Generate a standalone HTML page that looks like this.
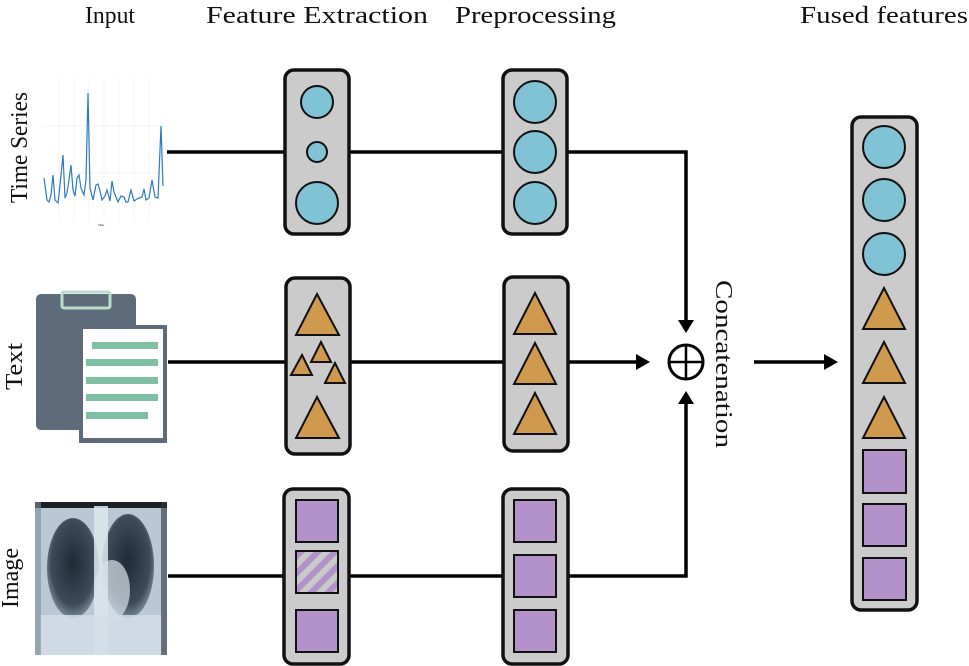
<!DOCTYPE html>
<html><head><meta charset="utf-8"><style>
html,body{margin:0;padding:0;background:#fff;}
svg{display:block;}
text{font-family:"Liberation Serif",serif;fill:#111;}
</style></head><body>
<svg width="969" height="666" viewBox="0 0 969 666" xmlns="http://www.w3.org/2000/svg">
<defs>
<pattern id="hatch" patternUnits="userSpaceOnUse" width="12" height="12" patternTransform="rotate(45)">
<rect width="12" height="12" fill="#c9c9c9"/><rect width="6" height="12" fill="#b391c9"/>
</pattern>
<radialGradient id="lungL" cx="0.5" cy="0.45" r="0.6"><stop offset="0" stop-color="#1f2a36"/><stop offset="0.7" stop-color="#3d4b59"/><stop offset="1" stop-color="#8fa0ae"/></radialGradient>
</defs>

<!-- titles -->
<text x="85" y="23" font-size="24" textLength="50" lengthAdjust="spacingAndGlyphs">Input</text>
<text x="206" y="23" font-size="24" textLength="222" lengthAdjust="spacingAndGlyphs">Feature Extraction</text>
<text x="455" y="23" font-size="24" textLength="161" lengthAdjust="spacingAndGlyphs">Preprocessing</text>
<text x="800" y="23" font-size="24" textLength="168" lengthAdjust="spacingAndGlyphs">Fused features</text>

<!-- side labels -->
<text transform="translate(27,203) rotate(-90)" font-size="24" textLength="111" lengthAdjust="spacingAndGlyphs">Time Series</text>
<text transform="translate(22,390) rotate(-90)" font-size="24" textLength="47" lengthAdjust="spacingAndGlyphs">Text</text>
<text transform="translate(18,608) rotate(-90)" font-size="24" textLength="60" lengthAdjust="spacingAndGlyphs">Image</text>
<text transform="translate(716,280) rotate(90)" font-size="24" textLength="168" lengthAdjust="spacingAndGlyphs">Concatenation</text>

<!-- time series chart -->
<g>
<rect x="43" y="78" width="121" height="146" fill="#fff"/>
<g stroke="#eee" stroke-width="0.6">
<line x1="59" y1="78" x2="59" y2="222"/><line x1="74" y1="78" x2="74" y2="222"/><line x1="89" y1="78" x2="89" y2="222"/>
<line x1="104" y1="78" x2="104" y2="222"/><line x1="119" y1="78" x2="119" y2="222"/><line x1="134" y1="78" x2="134" y2="222"/><line x1="149" y1="78" x2="149" y2="222"/>
<line x1="43" y1="126" x2="164" y2="126"/><line x1="43" y1="173" x2="164" y2="173"/>
</g>
<polyline fill="none" stroke="#2b7bc0" stroke-width="1.2" points="44,178 47,200 49,202 51,195 53,175 55,200 58,203 60,185 63,155 65,198 67,193 69,180 71,165 73,190 75,196 77,178 79,175 81,188 84,195 86,180 88,93 90,188 93,200 96,185 98,184 100,191 102,200 105,196 107,190 110,201 112,181 114,192 116,197 118,202 121,196 124,197 126,202 128,202 131,190 134,201 137,199 139,198 142,197 144,189 146,200 149,198 152,180 155,197 158,198 161,126 163,186"/>
<text x="98" y="226" font-size="3" fill="#777">Time</text>
</g>

<!-- clipboard -->
<rect x="36" y="294" width="100" height="136" rx="5" fill="#5d6b7b"/>
<rect x="62" y="292" width="48" height="16" rx="2" fill="none" stroke="#b9dccb" stroke-width="3"/>
<rect x="79" y="325" width="88" height="118" fill="#5d6b7b"/>
<rect x="83" y="329" width="80" height="109" fill="#fff"/>
<g fill="#7fbfa3">
<rect x="92" y="342" width="66" height="7"/><rect x="86" y="359" width="72" height="7"/>
<rect x="86" y="377" width="72" height="7"/><rect x="86" y="394" width="72" height="7"/><rect x="86" y="412" width="62" height="7"/>
</g>

<!-- xray -->
<g>
<rect x="35" y="502" width="132" height="153" fill="#b9c8d4"/>
<rect x="35" y="502" width="132" height="6" fill="#1a1f25"/>
<ellipse cx="73" cy="568" rx="26" ry="50" fill="url(#lungL)"/>
<ellipse cx="128" cy="566" rx="26" ry="52" fill="url(#lungL)"/>
<rect x="94" y="506" width="14" height="149" fill="#dde6ec" opacity="0.85"/>
<ellipse cx="112" cy="590" rx="18" ry="30" fill="#d9e2ea" opacity="0.7"/>
<rect x="40" y="615" width="122" height="40" fill="#d2dde6" opacity="0.85"/>
<rect x="35" y="502" width="6" height="153" fill="#7d8d9b" opacity="0.6"/>
<rect x="161" y="502" width="6" height="153" fill="#2b3440" opacity="0.6"/>
</g>

<!-- connectors -->
<g stroke="#000" stroke-width="3.5" fill="none">
<polyline points="167,152 686,152 686,322"/>
<line x1="168" y1="362" x2="638" y2="362"/>
<polyline points="168,576 686,576 686,402"/>
<line x1="754" y1="362" x2="826" y2="362"/>
</g>
<g fill="#000">
<path d="M678,320 L694,320 L686,333 z"/>
<path d="M636,354 L636,370 L650,362 z"/>
<path d="M678,404 L694,404 L686,391 z"/>
<path d="M824,354 L824,370 L838,362 z"/>
</g>
<circle cx="686" cy="362" r="17" fill="#fff" stroke="#000" stroke-width="3"/>
<line x1="669" y1="362" x2="703" y2="362" stroke="#000" stroke-width="2.5"/>
<line x1="686" y1="345" x2="686" y2="379" stroke="#000" stroke-width="2.5"/>

<!-- boxes -->
<g fill="#cbcbcb" stroke="#111" stroke-width="3.5">
<rect x="285" y="70" width="64" height="164" rx="9"/>
<rect x="503" y="70" width="64" height="164" rx="9"/>
<rect x="286" y="278" width="64" height="176" rx="9"/>
<rect x="504" y="277" width="64" height="174" rx="9"/>
<rect x="284" y="489" width="65" height="175" rx="9"/>
<rect x="503" y="489" width="65" height="175" rx="9"/>
<rect x="852" y="117" width="65" height="493" rx="9"/>
</g>

<!-- circles -->
<g fill="#7fc3d5" stroke="#111" stroke-width="2">
<circle cx="317" cy="102" r="16"/><circle cx="317" cy="152" r="10"/><circle cx="317" cy="203" r="21"/>
<circle cx="535" cy="102" r="21"/><circle cx="535" cy="152" r="21"/><circle cx="535" cy="203" r="21"/>
<circle cx="884" cy="147" r="21"/><circle cx="884" cy="200" r="21"/><circle cx="884" cy="254" r="21"/>
</g>

<!-- triangles -->
<g fill="#cf994e" stroke="#111" stroke-width="2">
<path d="M317,294 L339,335 L296,335 z"/>
<path d="M321,342 L331,362 L311,362 z"/>
<path d="M302,355 L312,375 L291,375 z"/>
<path d="M335,363 L345,383 L325,383 z"/>
<path d="M317,397 L339,438 L296,438 z"/>
<path d="M535,293 L556,334 L514,334 z"/>
<path d="M535,343 L556,384 L514,384 z"/>
<path d="M535,393 L556,434 L514,434 z"/>
<path d="M884,288 L905,329 L863,329 z"/>
<path d="M884,342 L905,383 L863,383 z"/>
<path d="M884,397 L905,438 L863,438 z"/>
</g>

<!-- squares -->
<g fill="#b391c9" stroke="#111" stroke-width="2">
<rect x="296" y="500" width="42" height="42"/>
<rect x="296" y="551" width="42" height="42" fill="url(#hatch)"/>
<rect x="296" y="610" width="42" height="42"/>
<rect x="514" y="500" width="42" height="42"/>
<rect x="514" y="555" width="42" height="42"/>
<rect x="514" y="610" width="42" height="42"/>
<rect x="863" y="450" width="43" height="43"/>
<rect x="863" y="504" width="43" height="42"/>
<rect x="863" y="558" width="43" height="42"/>
</g>
</svg>
</body></html>
